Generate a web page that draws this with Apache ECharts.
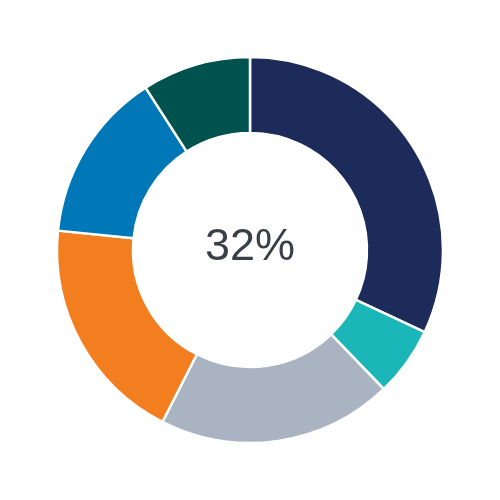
<!DOCTYPE html>
<html>
<head>
<meta charset="utf-8">
<script src="https://cdn.jsdelivr.net/npm/echarts@6/dist/echarts.min.js"></script>
<style>
html,body{margin:0;padding:0;background:#fff;}
#chart{width:500px;height:500px;}
</style>
</head>
<body>
<div id="chart"></div>
<script>
const categories = ["A", "B", "C", "D", "E", "F"];
const values = [32, 5.8, 19.7, 19.1, 14.3, 9.1];
const colors = ["#1c2b5a", "#1bb6b8", "#a9b3c1", "#f37e20", "#0077b6", "#00524f"];
const centerLabel = "32%";

const chart = echarts.init(document.getElementById('chart'));
chart.setOption({
  animation: false,
  title: {
    text: centerLabel,
    left: 'center',
    top: 220,
    textStyle: { fontFamily: 'Liberation Sans, Arial, sans-serif', fontSize: 45, fontWeight: 'normal', color: '#3b3f48' }
  },
  series: [{
    type: 'pie',
    center: [250, 250],
    radius: [117, 193],
    startAngle: 90,
    clockwise: true,
    label: { show: false },
    labelLine: { show: false },
    itemStyle: { borderColor: '#ffffff', borderWidth: 2.5 },
    emphasis: { disabled: true },
    data: categories.map((c, i) => ({ name: c, value: values[i], itemStyle: { color: colors[i] } }))
  }]
});
</script>
</body>
</html>
